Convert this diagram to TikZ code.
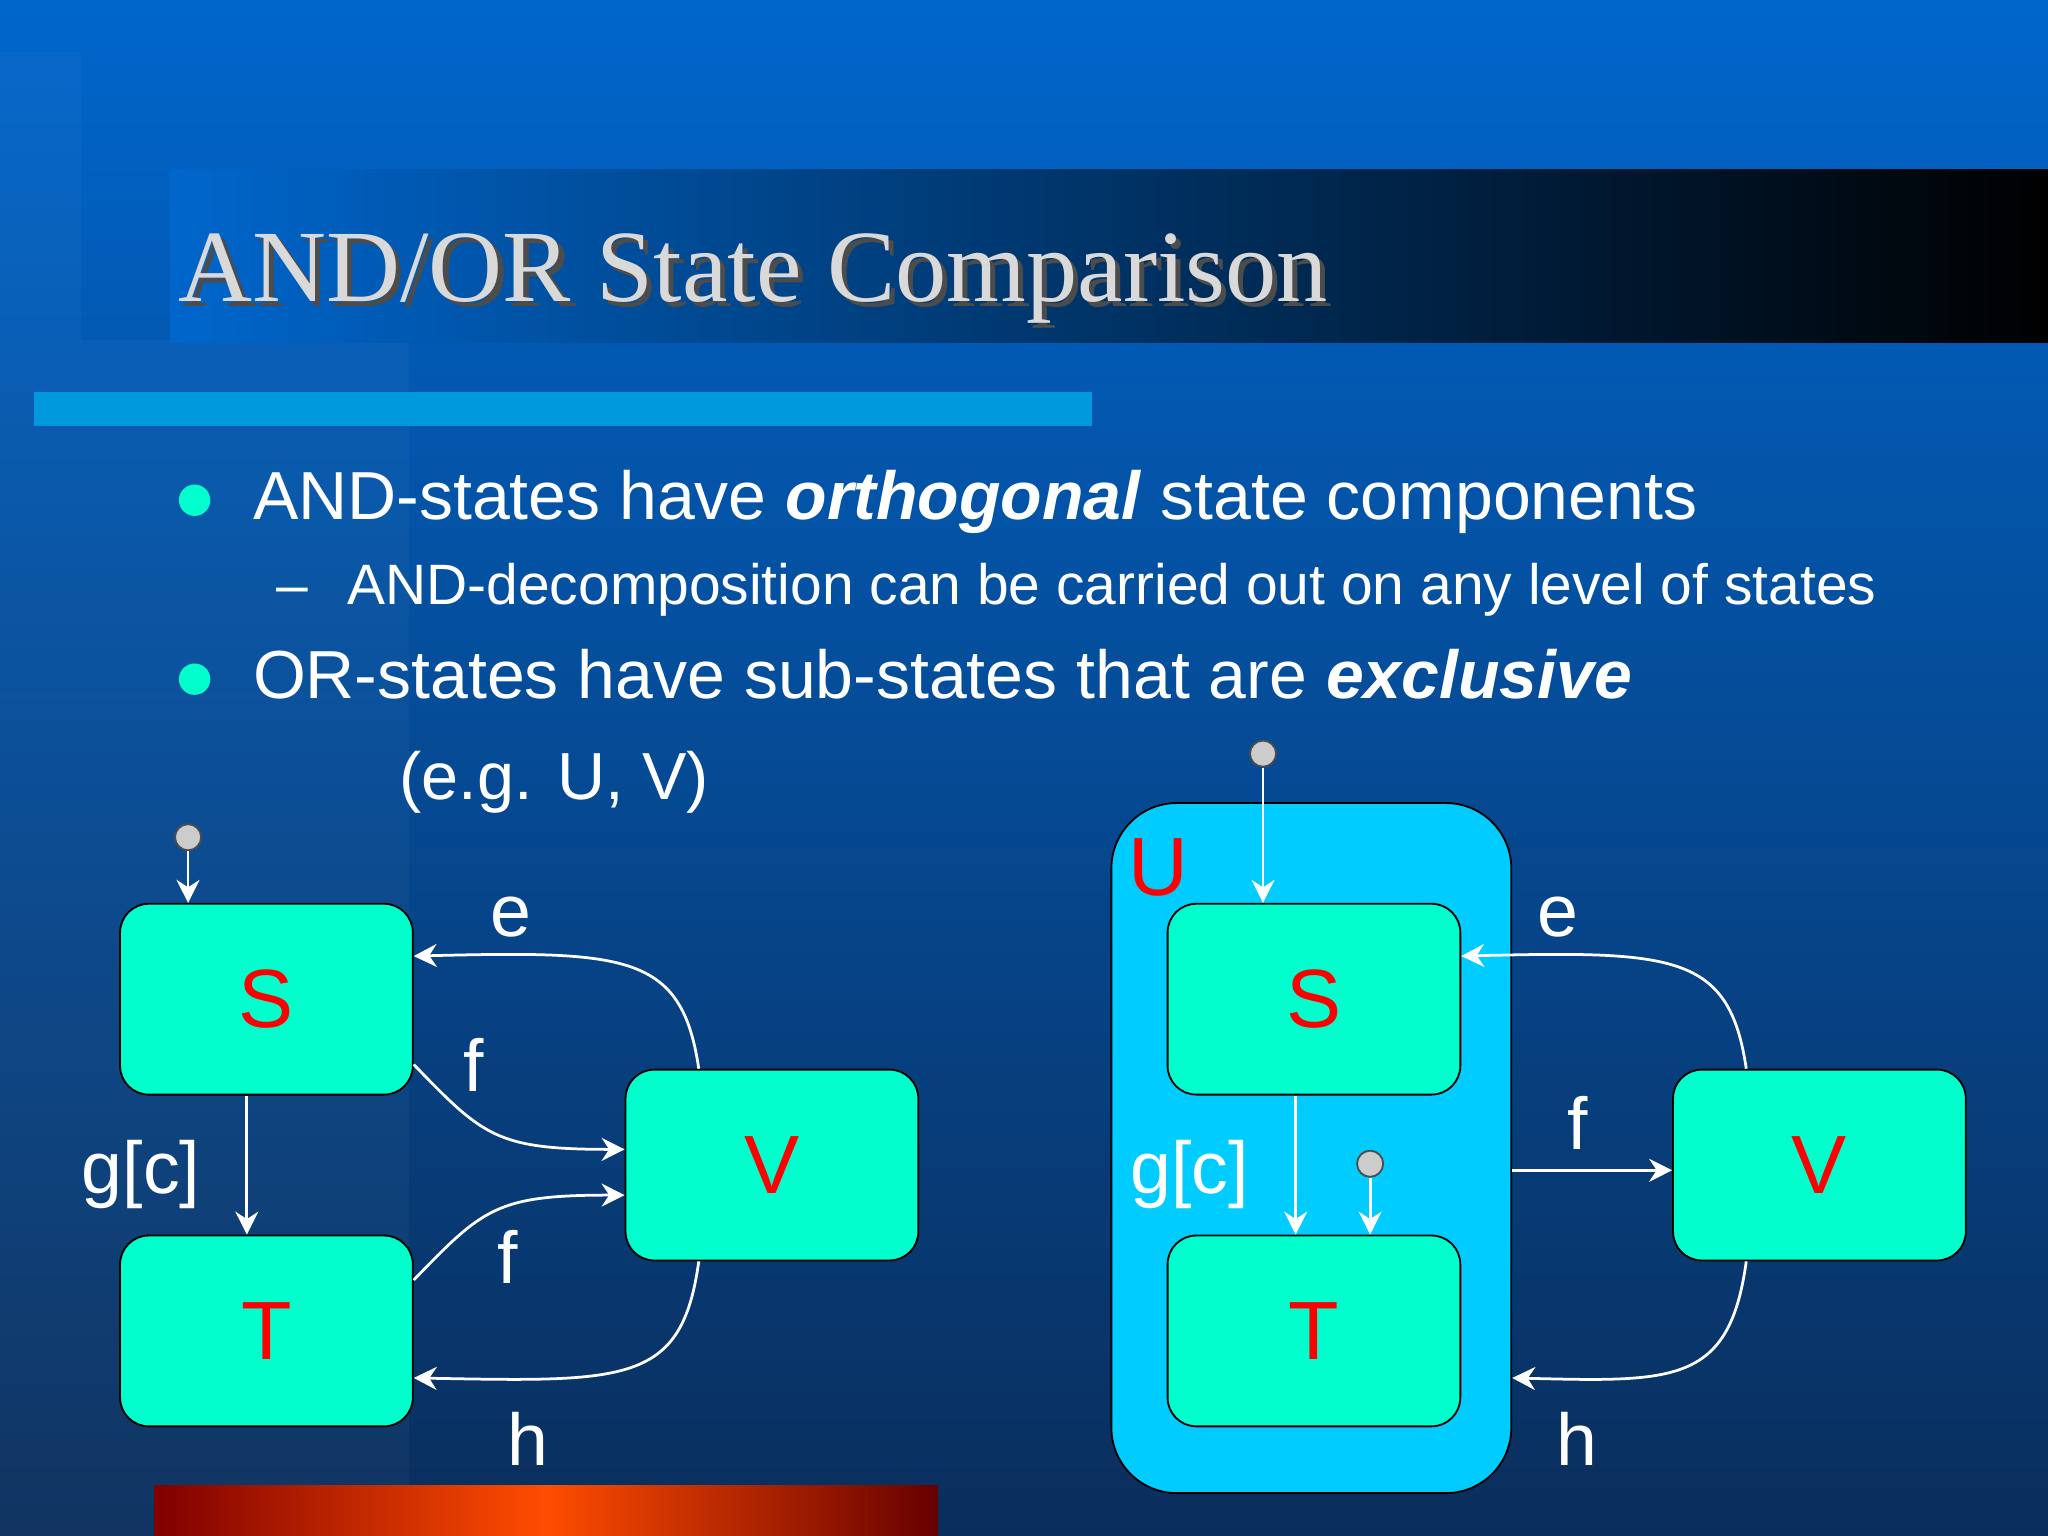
\documentclass[tikz,border=0pt]{standalone}
\usepackage{fontspec}
\setmainfont{Liberation Sans}
\newfontfamily\titlefont{Liberation Serif}
\usetikzlibrary{arrows.meta}
\definecolor{bgtop}{HTML}{0066CC}
\definecolor{bgbot}{HTML}{0A2E5C}
\definecolor{statefill}{HTML}{00FFCC}
\definecolor{ufill}{HTML}{00CCFF}
\definecolor{bulletc}{HTML}{00FFCC}
\definecolor{barc}{HTML}{0099DD}
\tikzset{
  stbox/.style={draw=black, fill=statefill, rounded corners=0.22cm, minimum width=2.24cm,
                minimum height=1.46cm, text=red, font=\fontsize{18}{18}\selectfont},
  tr/.style={draw=white, semithick, -{Stealth[length=5pt,width=5pt]}},
  lab/.style={text=white, font=\fontsize{16}{16}\selectfont},
  initdot/.style={circle, draw=gray!60!black, fill=gray!40, inner sep=0pt, minimum size=0.2cm},
}
\begin{document}
\begin{tikzpicture}[x=0.01cm,y=-0.01cm]
      % background
      \useasboundingbox (0,0) rectangle (1568,1176);
      \shade[top color=bgtop, bottom color=bgbot] (0,0) rectangle (1568,1176);
      \fill[white, opacity=0.03] (0,40) rectangle (62,1176);
      \fill[white, opacity=0.03] (62,260) rectangle (313,1176);
      \shade[left color=bgtop, right color=black] (130,130) rectangle (1568,262);
      \fill[barc] (26,300) rectangle (836,326);
      \shade[left color=red!50!black, right color=red!40!black, middle color=orange!60!red] (118,1137) rectangle (718,1176);
      % title and bullets
      \node[anchor=base west, text=black!70, inner sep=0pt] at (140,235) {\titlefont\fontsize{22.3}{22.3}\selectfont AND/OR State Comparison};
      \node[anchor=base west, text=gray!30, inner sep=0pt] (title) at (136,231) {\titlefont\fontsize{22.3}{22.3}\selectfont AND/OR State Comparison};
      \fill[bulletc] (149,383) circle (12);
      \fill[bulletc] (149,520) circle (12);
      \node[anchor=base west, text=white, inner sep=0pt, font=\fontsize{14.8}{14.8}\selectfont] (b1) at (193,398)
        {AND-states have \textbf{\textit{orthogonal}} state components};
      \node[anchor=base west, text=white, inner sep=0pt, font=\fontsize{12.4}{12.4}\selectfont] (b1a) at (211,463)
        {--\hspace{0.3cm}AND-decomposition can be carried out on any level of states};
      \node[anchor=base west, text=white, inner sep=0pt, font=\fontsize{14.8}{14.8}\selectfont] (b2) at (193,535)
        {OR-states have sub-states that are \textbf{\textit{exclusive}}};
      \node[anchor=base west, text=white, inner sep=0pt, font=\fontsize{14.5}{14.5}\selectfont] (eg) at (305,612) {(e.g. U, V)};
      % left diagram
      \node[stbox] (S1) at (204,765) {S};
      \node[stbox] (T1) at (204,1019) {T};
      \node[stbox] (V1) at (591,892) {V};
      \node[initdot] (i1) at (144,641) {};
      \draw[tr] (i1) -- (S1.north -| i1);
      \draw[tr] (S1.south -| 189,0) -- (T1.north -| 189,0);
      \draw[tr] (V1.north -| 535,0) .. controls (522,730) and (480,728) .. (S1.east |- 0,732);
      \draw[tr] (S1.east |- 0,815) .. controls (370,870) and (380,880) .. (V1.west |- 0,880);
      \draw[tr] (T1.east |- 0,980) .. controls (370,925) and (380,915) .. (V1.west |- 0,915);
      \draw[tr] (V1.south -| 535,0) .. controls (522,1060) and (480,1058) .. (T1.east |- 0,1055);
      \node[lab] (e1) at (391,702) {e};
      \node[lab] (f1) at (363,815) {f};
      \node[lab] (f2) at (389,962) {f};
      \node[lab] (h1) at (404,1102) {h};
      \node[lab] (g1) at (108,899) {g[c]};
      % right diagram
      \node[draw=black, fill=ufill, rounded corners=0.5cm, minimum width=3.06cm, minimum height=5.28cm] (U) at (1004,879) {};
      \node[text=red, font=\fontsize{18}{18}\selectfont] (ul) at (887,664) {U};
      \node[stbox] (S2) at (1006,765) {S};
      \node[stbox] (T2) at (1006,1019) {T};
      \node[stbox] (V2) at (1393,892) {V};
      \node[initdot] (i2) at (967,577) {};
      \node[initdot] (i3) at (1049,891) {};
      \draw[tr] (i2) -- (S2.north -| i2);
      \draw[tr] (i3) -- (T2.north -| i3);
      \draw[tr] (S2.south -| 992,0) -- (T2.north -| 992,0);
      \draw[tr] (V2.north -| 1337,0) .. controls (1324,730) and (1282,728) .. (S2.east |- 0,732);
      \draw[tr] (U.east |- 0,896) -- (V2.west |- 0,896);
      \draw[tr] (V2.south -| 1337,0) .. controls (1324,1060) and (1282,1058) .. (U.east |- 0,1055);
      \node[lab] (e3) at (1193,702) {e};
      \node[lab] (f3) at (1208,860) {f};
      \node[lab] (h3) at (1207,1102) {h};
      \node[lab] (g3) at (911,899) {g[c]};
    \end{tikzpicture}
\end{document}
